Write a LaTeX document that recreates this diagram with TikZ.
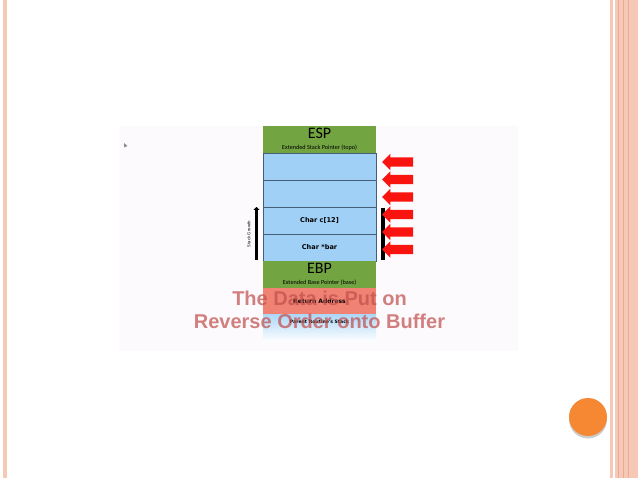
\documentclass[tikz,border=0pt]{standalone}
\usepackage{fontspec}
\setmainfont{Carlito}
\newfontfamily\dejavu{DejaVu Sans}
\newfontfamily\arialfont{Liberation Sans}
\usetikzlibrary{shapes.arrows, arrows.meta, positioning}

\definecolor{ptrgreen}{RGB}{114,164,66}
\definecolor{bufblue}{RGB}{160,208,245}
\definecolor{linegray}{RGB}{70,95,120}
\definecolor{retred}{RGB}{240,130,115}
\definecolor{parentblue}{RGB}{175,216,247}
\definecolor{pushred}{RGB}{250,20,15}
\definecolor{overlayred}{RGB}{192,80,77}
\definecolor{panelbg}{RGB}{253,250,253}
\definecolor{stripe}{RGB}{246,200,182}
\definecolor{stripedark}{RGB}{236,170,148}
\definecolor{slideorange}{RGB}{246,136,52}

\begin{document}
\begin{tikzpicture}[x=1pt, y=-1pt, node distance=0pt]

% Define styles
\tikzstyle{cell} = [rectangle, minimum width=113pt, minimum height=27pt,
    inner sep=0pt, outer sep=0pt, align=center]
\tikzstyle{ptrcell} = [cell, fill=ptrgreen]
\tikzstyle{bufcell} = [cell, fill=bufblue, draw=linegray, line width=0.5pt,
    font=\dejavu\bfseries\fontsize{6.6}{7}\selectfont]
\tikzstyle{pushed} = [single arrow, fill=pushred, minimum height=31pt, inner sep=4.5pt,
    single arrow head extend=3.5pt, shape border rotate=180]
\tikzstyle{bar} = [line width=3.5pt, black]
\tikzstyle{overlay} = [font=\arialfont\bfseries\fontsize{20}{23}\selectfont,
    text=overlayred, text opacity=0.72, align=center]

% Slide frame
\useasboundingbox (0,0) rectangle (638,478);
\fill[white] (0,0) rectangle (638,478);
\fill[stripe] (3,0) rectangle (7,478);
\fill[stripe] (610,0) rectangle (612.5,478);
\fill[stripe] (615,0) rectangle (638,478);
\foreach \x in {618,623,628}
    \draw[stripedark, line width=0.8pt] (\x,0) -- (\x,478);
\fill[black!20] (588,419.5) circle (19);
\fill[slideorange] (588,417) circle (19);

% Picture panel
\fill[panelbg] (119,126) rectangle (518,351);
\fill[black!45] (124,143) -- (124,147.5) -- (127.5,146) -- cycle;

% Place nodes
\node[ptrcell, anchor=north] (esp) at (319.5,126)
    {\fontsize{16}{16}\selectfont ESP\\[-1pt]\fontsize{6.2}{6}\selectfont Extended Stack Pointer (topo)};
\node[bufcell, below=of esp] (slot1) {};
\node[bufcell, below=of slot1] (slot2) {};
\node[bufcell, below=of slot2] (charc) {Char c[12]};
\node[bufcell, below=of charc] (charbar) {Char *bar};
\node[ptrcell, below=of charbar] (ebp)
    {\fontsize{16}{16}\selectfont EBP\\[-1pt]\fontsize{6.2}{6}\selectfont Extended Base Pointer (base)};
\node[cell, fill=retred, below=of ebp, font=\dejavu\bfseries\fontsize{6}{6}\selectfont] (retaddr) {Return Address};
\node[cell, top color=parentblue, bottom color=white, below=of retaddr,
    font=\dejavu\bfseries\fontsize{4.6}{5}\selectfont] (parent) {Parent Routine's Stack\\[8pt]};

% Stack growth
\coordinate (growlow) at ([xshift=-6.5pt]charbar.south west);
\coordinate (growhigh) at ([xshift=-6.5pt]charc.north west);
\draw[bar, -{Triangle[width=6pt, length=3pt]}] ([yshift=1pt]growlow) -- (growhigh);
\node[rotate=90, font=\dejavu\fontsize{4}{4}\selectfont] (growlabel)
    at ([xshift=-14pt]charc.south west) {Stack Growth};

% Right bar and pushed data
\coordinate (barhigh) at ([xshift=7pt, yshift=-1pt]charc.north east);
\coordinate (barlow) at ([xshift=7pt, yshift=1pt]charbar.south east);
\draw[bar] (barhigh) -- (barlow);
\foreach \i/\y in {1/162,2/179.5,3/197,4/214.5,5/232,6/249.5}
    \node[pushed] (push\i) at (400,\y) {};

% Overlay caption
\node[overlay] (caption) at (319.5,309.5) {The Data is Put on\\Reverse Order onto Buffer};

\end{tikzpicture}
\end{document}
